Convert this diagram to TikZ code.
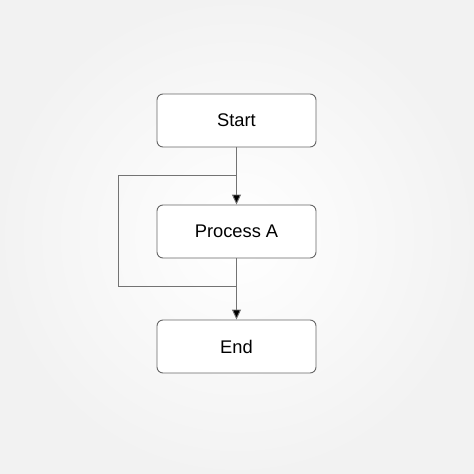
\documentclass[tikz,border=0pt]{standalone}
\usepackage{fontspec}
\setmainfont{Liberation Sans}
\usetikzlibrary{arrows.meta}
\begin{document}
\begin{tikzpicture}[x=1pt,y=-1pt,
  box/.style={draw=black!60, line width=0.9pt, rounded corners=6pt, fill=white,
    minimum width=159pt, minimum height=53pt, inner sep=0pt, font=\fontsize{18.3}{21}\selectfont, text=black},
  conn/.style={draw=black!55, line width=0.9pt},
  arr/.style={conn, -{Triangle[length=10pt,width=9pt,fill=black]}}]
\shade[inner color=white, outer color=black!5] (0,0) rectangle (474,474);
\useasboundingbox (0,0) rectangle (474,474);
\node[box] (start) at (236.5,120.5) {Start};
\node[box] (proc) at (236.5,231.5) {Process A};
\node[box] (end) at (236.5,346.5) {End};
\coordinate (j1) at (236.5,175);
\coordinate (j2) at (236.5,286);
\coordinate (c1) at (118,175);
\coordinate (c2) at (118,286);
\draw[arr] (start) -- (proc);
\draw[arr] (proc) -- (end);
\draw[conn] (j1) -- (c1) -- (c2) -- (j2);
\end{tikzpicture}
\end{document}
